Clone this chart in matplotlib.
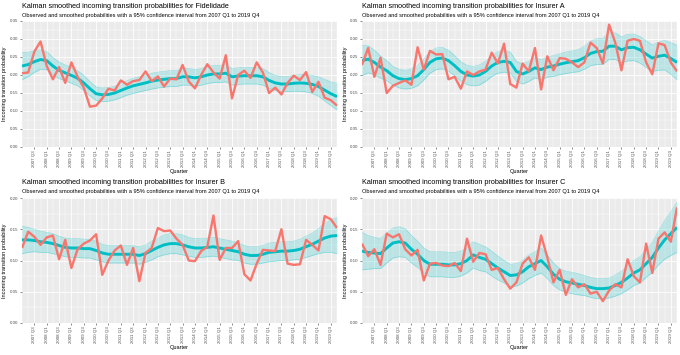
import matplotlib
matplotlib.use("Agg")
import matplotlib.pyplot as plt
import numpy as np

plt.rcParams['font.family'] = ['Liberation Sans', 'DejaVu Sans']

# quarters 2007 Q1 .. 2019 Q4
years = list(range(2007, 2020))
quarters = [f"{y} Q{q}" for y in years for q in range(1, 5)]

# ---- Fidelidade ----  (one row per year)
fid_obs = [0.205, 0.207, 0.265, 0.293,
           0.225, 0.188, 0.222, 0.178,
           0.235, 0.195, 0.165, 0.112,
           0.115, 0.135, 0.162, 0.157,
           0.185, 0.173, 0.183, 0.186,
           0.210, 0.183, 0.196, 0.168,
           0.190, 0.188, 0.228, 0.182,
           0.163, 0.200, 0.230, 0.207,
           0.190, 0.255, 0.135, 0.200,
           0.212, 0.192, 0.235, 0.207,
           0.150, 0.165, 0.146, 0.178,
           0.198, 0.186, 0.208, 0.153,
           0.181, 0.137, 0.130, 0.115]
fid_smooth = [0.225, 0.229, 0.237, 0.243,
              0.240, 0.225, 0.213, 0.206,
              0.199, 0.191, 0.178, 0.162,
              0.148, 0.145, 0.146, 0.150,
              0.157, 0.164, 0.170, 0.174,
              0.178, 0.183, 0.186, 0.188,
              0.190, 0.190, 0.195, 0.195,
              0.192, 0.195, 0.200, 0.203,
              0.203, 0.205, 0.195, 0.197,
              0.198, 0.198, 0.198, 0.195,
              0.185, 0.178, 0.175, 0.175,
              0.177, 0.178, 0.177, 0.174,
              0.168, 0.158, 0.148, 0.140]
fid_hw = [0.038, 0.034, 0.030, 0.027,
          0.025, 0.024, 0.023, 0.022,
          0.022, 0.021, 0.021, 0.020,
          0.019, 0.019, 0.019, 0.019,
          0.020, 0.020, 0.021, 0.021,
          0.021, 0.022, 0.022, 0.022,
          0.022, 0.022, 0.023, 0.023,
          0.023, 0.023, 0.024, 0.024,
          0.024, 0.024, 0.023, 0.023,
          0.023, 0.023, 0.023, 0.023,
          0.022, 0.021, 0.021, 0.021,
          0.022, 0.023, 0.024, 0.025,
          0.027, 0.030, 0.033, 0.037]

# ---- Insurer A ----
a_obs = [0.228, 0.275, 0.195, 0.248,
         0.150, 0.170, 0.178, 0.185,
         0.173, 0.277, 0.215, 0.267,
         0.257, 0.258, 0.188, 0.195,
         0.162, 0.210, 0.200, 0.210,
         0.215, 0.262, 0.232, 0.287,
         0.175, 0.165, 0.232, 0.210,
         0.275, 0.160, 0.252, 0.213,
         0.247, 0.245, 0.235, 0.222,
         0.235, 0.290, 0.275, 0.232,
         0.340, 0.290, 0.213, 0.295,
         0.300, 0.295, 0.235, 0.202,
         0.288, 0.283, 0.235, 0.210]
a_smooth = [0.240, 0.244, 0.235, 0.222,
            0.212, 0.198, 0.190, 0.187,
            0.190, 0.198, 0.215, 0.235,
            0.245, 0.247, 0.240, 0.226,
            0.210, 0.200, 0.197, 0.200,
            0.210, 0.225, 0.235, 0.238,
            0.235, 0.210, 0.203, 0.210,
            0.220, 0.215, 0.222, 0.225,
            0.230, 0.234, 0.237, 0.240,
            0.248, 0.260, 0.265, 0.266,
            0.280, 0.280, 0.270, 0.276,
            0.277, 0.270, 0.258, 0.247,
            0.252, 0.255, 0.246, 0.235]
a_hw = [0.042, 0.038, 0.034, 0.031,
        0.028, 0.026, 0.026, 0.026,
        0.027, 0.028, 0.029, 0.030,
        0.030, 0.030, 0.029, 0.028,
        0.027, 0.027, 0.027, 0.028,
        0.028, 0.029, 0.030, 0.030,
        0.029, 0.028, 0.028, 0.028,
        0.028, 0.028, 0.028, 0.029,
        0.029, 0.030, 0.030, 0.031,
        0.032, 0.034, 0.036, 0.036,
        0.037, 0.037, 0.036, 0.037,
        0.037, 0.037, 0.037, 0.037,
        0.039, 0.041, 0.044, 0.048]

# ---- Insurer B ----
b_obs = [0.120, 0.146, 0.138, 0.125,
         0.137, 0.140, 0.102, 0.133,
         0.088, 0.118, 0.127, 0.132,
         0.142, 0.077, 0.100, 0.116,
         0.124, 0.093, 0.120, 0.067,
         0.112, 0.120, 0.152, 0.147,
         0.148, 0.135, 0.125, 0.100,
         0.099, 0.115, 0.122, 0.172,
         0.101, 0.120, 0.120, 0.131,
         0.078, 0.068, 0.095, 0.117,
         0.116, 0.115, 0.150, 0.095,
         0.093, 0.094, 0.133, 0.125,
         0.116, 0.171, 0.166, 0.152]
b_smooth = [0.133, 0.133, 0.132, 0.130,
            0.129, 0.127, 0.124, 0.121,
            0.120, 0.120, 0.119, 0.119,
            0.116, 0.112, 0.110, 0.110,
            0.110, 0.110, 0.110, 0.108,
            0.111, 0.116, 0.121, 0.125,
            0.127, 0.127, 0.125, 0.122,
            0.120, 0.120, 0.121, 0.122,
            0.120, 0.118, 0.116, 0.114,
            0.110, 0.108, 0.108, 0.110,
            0.113, 0.114, 0.115, 0.115,
            0.116, 0.118, 0.122, 0.126,
            0.131, 0.136, 0.139, 0.140]
b_hw = [0.022, 0.020, 0.018, 0.017,
        0.016, 0.016, 0.015, 0.015,
        0.015, 0.015, 0.015, 0.015,
        0.015, 0.014, 0.014, 0.014,
        0.014, 0.014, 0.014, 0.014,
        0.014, 0.015, 0.015, 0.016,
        0.016, 0.016, 0.016, 0.015,
        0.015, 0.015, 0.015, 0.015,
        0.015, 0.015, 0.015, 0.014,
        0.014, 0.014, 0.014, 0.014,
        0.015, 0.015, 0.015, 0.015,
        0.015, 0.016, 0.017, 0.018,
        0.020, 0.023, 0.026, 0.029]

# ---- Insurer C ----
c_obs = [0.127, 0.107, 0.118, 0.093,
         0.143, 0.137, 0.142, 0.118,
         0.108, 0.117, 0.068, 0.095,
         0.096, 0.092, 0.091, 0.096,
         0.083, 0.135, 0.098, 0.112,
         0.110, 0.085, 0.088, 0.070,
         0.055, 0.065, 0.095, 0.105,
         0.085, 0.140, 0.105, 0.065,
         0.085, 0.045, 0.070, 0.057,
         0.062, 0.047, 0.050, 0.035,
         0.052, 0.062, 0.057, 0.102,
         0.075, 0.065, 0.127, 0.080,
         0.135, 0.145, 0.130, 0.185]
c_smooth = [0.115, 0.113, 0.112, 0.111,
            0.120, 0.128, 0.130, 0.128,
            0.118, 0.110, 0.100, 0.094,
            0.094, 0.094, 0.093, 0.093,
            0.095, 0.100, 0.109, 0.105,
            0.102, 0.095, 0.088, 0.082,
            0.076, 0.077, 0.082, 0.090,
            0.095, 0.100, 0.090, 0.078,
            0.070, 0.066, 0.064, 0.062,
            0.060, 0.057, 0.055, 0.055,
            0.056, 0.060, 0.065, 0.072,
            0.080, 0.085, 0.095, 0.105,
            0.120, 0.133, 0.143, 0.153]
c_hw = [0.030, 0.027, 0.025, 0.024,
        0.024, 0.024, 0.024, 0.023,
        0.022, 0.021, 0.020, 0.020,
        0.020, 0.020, 0.020, 0.020,
        0.020, 0.020, 0.021, 0.021,
        0.020, 0.020, 0.019, 0.018,
        0.018, 0.018, 0.018, 0.019,
        0.019, 0.020, 0.019, 0.018,
        0.017, 0.017, 0.017, 0.017,
        0.016, 0.016, 0.016, 0.016,
        0.016, 0.017, 0.018, 0.019,
        0.020, 0.021, 0.022, 0.024,
        0.027, 0.031, 0.035, 0.040]

names = ["Fidelidade", "Insurer A", "Insurer B", "Insurer C"]
obs = [fid_obs, a_obs, b_obs, c_obs]
smooth = [fid_smooth, a_smooth, b_smooth, c_smooth]
halfw = [fid_hw, a_hw, b_hw, c_hw]
ymax = [0.35, 0.35, 0.20, 0.20]

RED = "#F8766D"
TEAL = "#00BFC4"
W, H = 680, 355

fig = plt.figure(figsize=(W / 100, H / 100), dpi=100)

# panel rectangles in pixels: left, top, right, bottom
boxes = [(22, 21, 337, 147), (362, 21, 677, 147),
         (22, 198, 337, 323), (362, 198, 677, 323)]
subtitle = "Observed and smoothed probabilities with a 95% confidence interval from 2007 Q1 to 2019 Q4"

x = np.arange(len(quarters))
for k in range(4):
    l, t, r, b = boxes[k]
    ax = fig.add_axes([l / W, 1 - b / H, (r - l) / W, (b - t) / H])
    ax.set_facecolor("#EBEBEB")
    for s in ax.spines.values():
        s.set_visible(False)

    sm = np.array(smooth[k])
    hw = np.array(halfw[k])
    ax.fill_between(x, sm - hw, sm + hw, color=TEAL, alpha=0.2, lw=0)
    ax.plot(x, sm - hw, color=TEAL, alpha=0.35, lw=0.5)
    ax.plot(x, sm + hw, color=TEAL, alpha=0.35, lw=0.5)
    ax.plot(x, sm, color=TEAL, lw=2.1, solid_capstyle="butt")
    ax.plot(x, obs[k], color=RED, lw=1.7, solid_capstyle="butt")

    ax.set_xlim(0, len(quarters) - 1)
    ax.set_ylim(0, ymax[k])
    ax.set_xticks(x, minor=True)
    ax.set_xticks(x[2::2])
    ax.set_xticklabels(quarters[2::2], rotation=90)
    ax.set_yticks(np.arange(0, ymax[k] + 0.001, 0.05))
    ax.set_yticks(np.arange(0.025, ymax[k], 0.05), minor=True)
    ax.yaxis.set_major_formatter(matplotlib.ticker.FormatStrFormatter("%.2f"))
    ax.grid(which="major", color="white", lw=0.6)
    ax.grid(which="minor", color="white", lw=0.3)
    ax.set_axisbelow(True)
    ax.tick_params(which="major", length=1.5, width=0.4, color="#333333",
                   labelsize=3.2, labelcolor="#4D4D4D", pad=1)
    ax.tick_params(which="minor", length=0)

    cx = (l + r) / 2 / W
    fig.text(l / W, 1 - (t - 15) / H, "Kalman smoothed incoming transition probabilities for " + names[k],
             fontsize=5.25, color="black", ha="left", va="center")
    fig.text(l / W, 1 - (t - 6) / H, subtitle, fontsize=4.05, color="black", ha="left", va="center")
    fig.text(cx, 1 - (b + 25) / H, "Quarter", fontsize=4.05, ha="center", va="center")
    fig.text((l - 17) / W, 1 - (t + b) / 2 / H, "Incoming transition probability",
             fontsize=4.05, rotation=90, ha="center", va="center")

fig.savefig("out.png", dpi=100)
